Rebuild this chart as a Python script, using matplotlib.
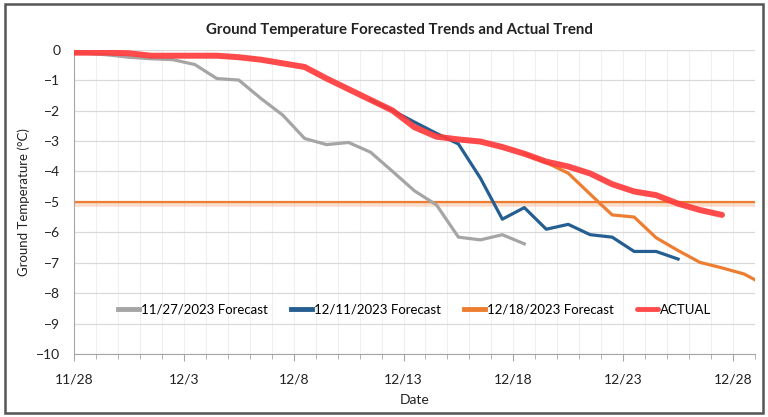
import numpy as np
import pandas as pd
import matplotlib
matplotlib.use('Agg')
import matplotlib.pyplot as plt
import matplotlib.dates as mdates
import matplotlib.patheffects as pe
from matplotlib.patches import Rectangle

plt.rcParams['font.family'] = ['Lato', 'DejaVu Sans']

# forecast / actual series, one value per day (values in deg C)
gray_start = '2023-11-27'
gray_vals = [-0.10, -0.12, -0.17, -0.25, -0.30, -0.33, -0.49, -0.95, -1.00, -1.60, -2.15,
             -2.92, -3.12, -3.05, -3.37, -4.00, -4.64, -5.10, -6.16, -6.25, -6.08, -6.38]

blue_start = '2023-12-11'
blue_vals = [-1.65, -2.00, -2.38, -2.75, -3.10, -4.22, -5.57, -5.19, -5.90, -5.74,
             -6.08, -6.16, -6.63, -6.63, -6.88]

orange_start = '2023-12-18'
orange_vals = [-3.42, -3.71, -4.06, -4.75, -5.43, -5.50, -6.18, -6.60, -6.99, -7.17,
               -7.37, -7.75]

actual_start = '2023-11-27'
actual_vals = [-0.10, -0.10, -0.10, -0.12, -0.20, -0.20, -0.20, -0.20, -0.25, -0.33, -0.45,
               -0.57, -0.95, -1.30, -1.65, -2.00, -2.55, -2.86, -2.95, -3.02, -3.20, -3.42,
               -3.68, -3.84, -4.07, -4.42, -4.66, -4.78, -5.06, -5.27, -5.43]

threshold = -5
labels = ['11/27/2023 Forecast', '12/11/2023 Forecast', '12/18/2023 Forecast', 'ACTUAL']
colors = ['#A5A5A5', '#255E91', '#ED7D31', '#FF3B3B']

def day_dates(start, vals):
    # excel date axis puts points between tick marks -> middle of the day
    return pd.date_range(start, periods=len(vals), freq='D') + pd.Timedelta(hours=12)

fig = plt.figure(figsize=(7.68, 4.17), dpi=100, facecolor='w')
ax = fig.add_axes([0.0964, 0.151, 0.8866, 0.730])

ax.plot(day_dates(gray_start, gray_vals), gray_vals, color=colors[0], lw=2.3, label=labels[0], zorder=3)
ax.plot(day_dates(blue_start, blue_vals), blue_vals, color=colors[1], lw=2.3, label=labels[1], zorder=3)
ax.plot(day_dates(orange_start, orange_vals), orange_vals, color=colors[2], lw=2.3, label=labels[2], zorder=3)
ax.plot(day_dates(actual_start, actual_vals), actual_vals, color=colors[3], lw=4.3, alpha=0.92,
        solid_capstyle='round', solid_joinstyle='round', label=labels[3], zorder=4)

# threshold line with soft shadow
ax.axhline(threshold, color='#ED7D31', lw=1.6, zorder=2,
           path_effects=[pe.SimpleLineShadow(offset=(0, -1.5), shadow_color='#ED7D31', alpha=0.25, linewidth=4),
                         pe.Normal()])

ax.set_xlim(pd.Timestamp('2023-11-28'), pd.Timestamp('2023-12-29'))
ax.set_ylim(-10, 0)
ax.set_yticks(np.arange(-10, 1, 1))

ax.xaxis.set_major_locator(mdates.DayLocator(bymonthday=[3, 8, 13, 18, 23, 28]))
ax.xaxis.set_minor_locator(mdates.DayLocator())
ax.xaxis.set_major_formatter(mdates.DateFormatter('%-m/%-d'))

ax.grid(which='major', axis='y', color='#D9D9D9', lw=0.9, zorder=0)
ax.grid(which='minor', axis='x', color='#EFEFEF', lw=0.8, zorder=0)
ax.grid(which='major', axis='x', color='#EFEFEF', lw=0.8, zorder=0)
ax.set_axisbelow(True)

for s in ['top', 'right']:
    ax.spines[s].set_visible(False)
ax.spines['left'].set_color('#A6A6A6')
ax.spines['bottom'].set_color('#A6A6A6')
ax.tick_params(axis='y', length=0, pad=10, labelsize=10, colors='#222222')
ax.tick_params(axis='x', which='major', length=5, color='#A6A6A6', pad=9, labelsize=10, labelcolor='#222222')
ax.tick_params(axis='x', which='minor', length=3.5, color='#A6A6A6')

ax.set_xlabel('Date', fontsize=10, labelpad=6, color='#222222')
ax.set_ylabel('Ground Temperature (°C)', fontsize=9.5, labelpad=4, color='#222222')

leg = ax.legend(loc='center', bbox_to_anchor=(0.5, 0.145), ncol=4, frameon=False, fontsize=9.5,
                handlelength=1.6, handletextpad=0.15, columnspacing=1.75)
for h in leg.get_lines():
    h.set_linewidth(3.5)

fig.text(0.52, 0.928, 'Ground Temperature Forecasted Trends and Actual Trend',
         ha='center', va='center', fontsize=10.8, fontweight='bold', color='#222222')

# outer frame
fig.patches.append(Rectangle((0.006, 0.01), 0.988, 0.98, transform=fig.transFigure,
                             fill=False, ec='#555555', lw=1.8))

fig.savefig('out.png', dpi=100)
